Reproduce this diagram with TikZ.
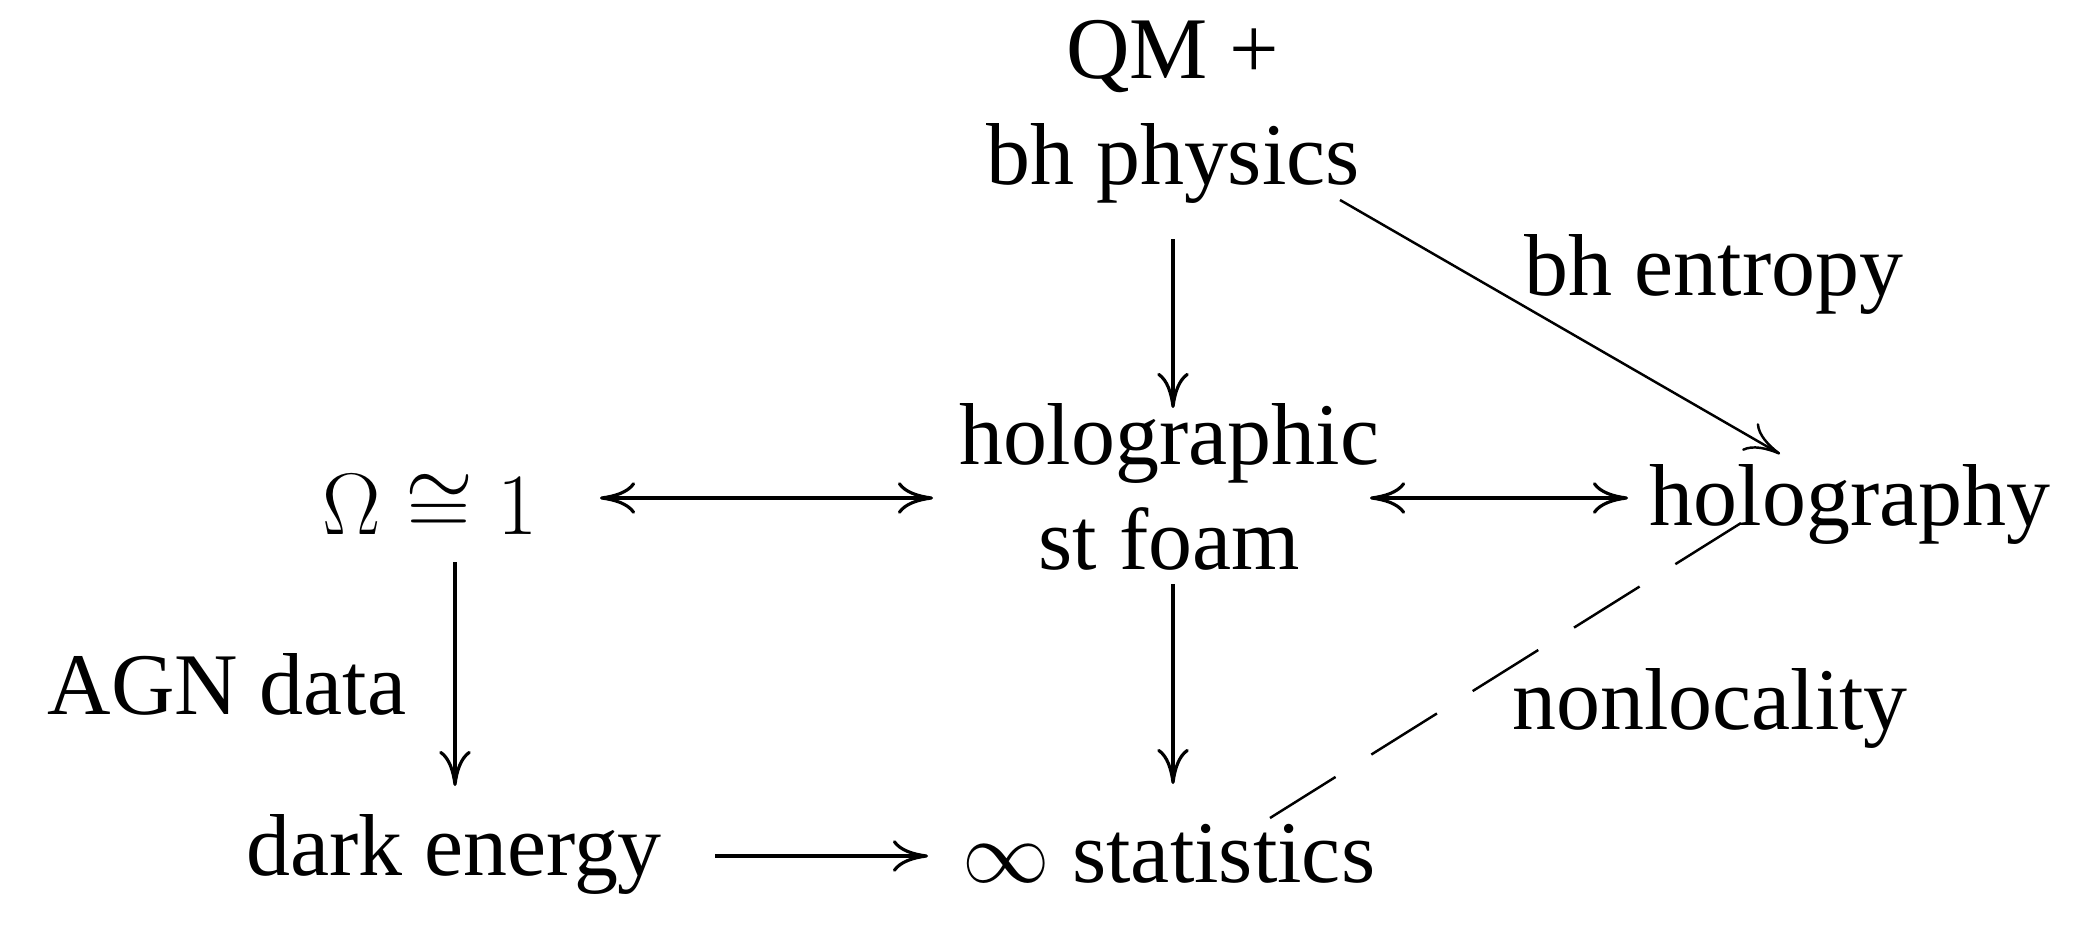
\documentclass[tikz,border=0pt]{standalone}
\usepackage{fontspec}
\setmainfont{Liberation Serif}
\usetikzlibrary{arrows.meta}
\begin{document}
\begin{tikzpicture}[x=0.01cm,y=0.01cm,
  lab/.style={font=\fontsize{25}{30}\selectfont, inner sep=2pt},
  ar/.style={-{To[length=10pt,width=9pt]}, line width=0.9pt},
  dar/.style={{To[length=10pt,width=9pt]}-{To[length=10pt,width=9pt]}, line width=0.9pt}]
\useasboundingbox (0,0) rectangle (2095,924);
\node[lab, align=center] (qm) at (1173,812) {QM +\\bh physics};
\node[lab, align=center] (hf) at (1169,437) {holographic\\st foam};
\node[lab] (om) at (430,419) {$\Omega \cong 1$};
\node[lab] (hy) at (1850,420) {holography};
\node[lab] (de) at (454,70) {dark energy};
\node[lab] (st) at (1169,70) {$\infty$ statistics};
\node[lab] (agn) at (227,240) {AGN data};
\node[lab] (be) at (1714,650) {bh entropy};
\node[lab] (nl) at (1710,216) {nonlocality};
\coordinate (y1) at (0,426);
\draw[ar] (qm.south -| 1173,0) ++(0,-8pt) coordinate (a1) -- (1173,516);
\draw[ar] (1173,340) -- (1173,140);
\draw[dar] (600,426) -- (933,426);
\draw[dar] (1370,426) -- (1628,426);
\draw[ar] (455,362) -- (455,138);
\draw[ar] (715,68) -- (928,68);
\draw[line width=0.7pt, -{To[length=10pt,width=9pt]}] (1340,724) -- (1780,470);
\draw[line width=0.7pt, dash pattern=on 22pt off 12pt] (1270,106) -- (1765,416);
\end{tikzpicture}
\end{document}
